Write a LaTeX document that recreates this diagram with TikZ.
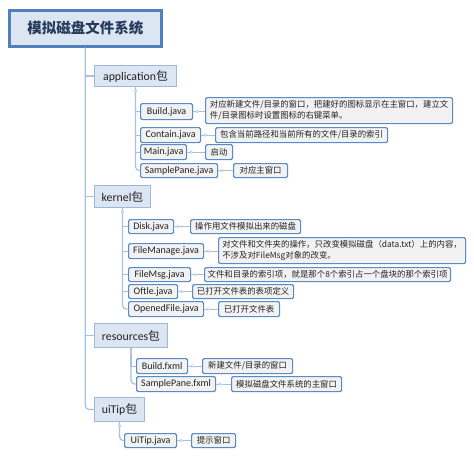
\documentclass[tikz,border=0pt]{standalone}
\usepackage{fontspec}
\setmainfont{Carlito}
\newfontfamily\cjk{Noto Sans CJK SC}
\definecolor{rootfill}{HTML}{DCE6F2}
\definecolor{rootdraw}{HTML}{4F81BD}
\definecolor{rootText}{HTML}{243A5A}
\definecolor{pkgfill}{HTML}{DCE6F2}
\definecolor{pkgdraw}{HTML}{9CB9DC}
\definecolor{leafdraw}{HTML}{5A8BC6}
\definecolor{leaffill}{HTML}{F2F2F2}
\definecolor{connc}{HTML}{A9C1DF}
\definecolor{txt}{HTML}{222222}
\newcommand\mybox[7]{\node[#6, anchor=north west, minimum width={(#4-#2)*1pt}, minimum height={(#5-#3)*1pt}] (#1) at (#2,#3) {#7};}
\begin{document}
\begin{tikzpicture}[x=1pt,y=-1pt,
  rootbox/.style={draw=rootdraw, fill=rootfill, line width=2.5pt, inner sep=0pt, text=rootText, font=\cjk\bfseries\fontsize{14.5}{16}\selectfont},
  pkgbox/.style={draw=pkgdraw, fill=pkgfill, line width=1pt, inner sep=0pt, text=txt, font=\fontsize{11.8}{13}\selectfont},
  leafbox/.style={draw=leafdraw, fill=leaffill, line width=1.2pt, rounded corners=1.5pt, inner sep=0pt, text=txt, font=\fontsize{10}{11}\selectfont},
  descbox/.style={draw=leafdraw, fill=leaffill, line width=1.2pt, rounded corners=1.5pt, inner sep=0pt, text=txt, align=left, font=\cjk\fontsize{8.4}{11}\selectfont},
  conn/.style={draw=connc, line width=1.2pt},
  lastconn/.style={draw=connc, line width=1.2pt, rounded corners=4pt},
  knob/.style={draw=connc, fill=white, line width=0.5pt}]
\useasboundingbox (0,0) rectangle (474,456);
\fill[white] (0,0) rectangle (474,456);

\mybox{root}{8}{9}{160}{45}{rootbox}{模拟磁盘文件系统}

\mybox{app}{94}{65}{176}{86}{pkgbox}{application{\cjk 包}}
\mybox{build}{140}{103}{192}{119}{leafbox}{Build.java}
\mybox{buildd}{205}{97}{452}{123}{descbox}{对应新建文件/目录的窗口，把建好的图标显示在主窗口，建立文\\件/目录图标时设置图标的右键菜单。}
\mybox{contain}{140}{127}{200}{142}{leafbox}{Contain.java}
\mybox{containd}{215}{127}{387}{142}{descbox}{包含当前路径和当前所有的文件/目录的索引}
\mybox{main}{140}{144}{186}{159}{leafbox}{Main.java}
\mybox{maind}{205}{144}{232}{159}{descbox}{启动}
\mybox{sp}{140}{163}{217}{177}{leafbox}{SamplePane.java}
\mybox{spd}{233}{163}{287}{177}{descbox}{对应主窗口}

\mybox{kernel}{94}{185}{150}{207}{pkgbox}{kernel{\cjk 包}}
\mybox{disk}{128}{219}{173}{233}{leafbox}{Disk.java}
\mybox{diskd}{190}{219}{300}{233}{descbox}{操作用文件模拟出来的磁盘}
\mybox{fm}{128}{243}{203}{258}{leafbox}{FileManage.java}
\mybox{fmd}{218}{237}{465}{263}{descbox}{对文件和文件夹的操作，只改变模拟磁盘（data.txt）上的内容，\\不涉及对FileMsg对象的改变。}
\mybox{fmsg}{128}{267}{190}{281}{leafbox}{FileMsg.java}
\mybox{fmsgd}{204}{267}{450}{281}{descbox}{文件和目录的索引项，就是那个8个索引占一个盘块的那个索引项}
\mybox{oftle}{128}{284}{177}{298}{leafbox}{Oftle.java}
\mybox{oftled}{192}{284}{293}{298}{descbox}{已打开文件表的表项定义}
\mybox{opened}{128}{301}{203}{316}{leafbox}{OpenedFile.java}
\mybox{openedd}{218}{301}{279}{316}{descbox}{已打开文件表}

\mybox{res}{94}{323}{167}{347}{pkgbox}{resources{\cjk 包}}
\mybox{bfx}{136}{358}{187}{373}{leafbox}{Build.fxml}
\mybox{bfxd}{202}{358}{292}{373}{descbox}{新建文件/目录的窗口}
\mybox{spfx}{136}{376}{215}{391}{leafbox}{SamplePane.fxml}
\mybox{spfxd}{231}{376}{341}{391}{descbox}{模拟磁盘文件系统的主窗口}

\mybox{ui}{94}{397}{144}{421}{pkgbox}{uiTip{\cjk 包}}
\mybox{uij}{124}{433}{176}{447}{leafbox}{UiTip.java}
\mybox{uijd}{191}{433}{235}{447}{descbox}{提示窗口}

% main trunk
\draw[conn] (root.south) |- (app.west);
\draw[conn] (root.south) |- (kernel.west);
\draw[conn] (root.south) |- (res.west);
\draw[lastconn] (root.south) |- (ui.west);
% application
\draw[conn] (app.south) |- (build.west);
\draw[conn] (app.south) |- (contain.west);
\draw[conn] (app.south) |- (main.west);
\draw[lastconn] (app.south) |- (sp.west);
% kernel
\draw[conn] (kernel.south) |- (disk.west);
\draw[conn] (kernel.south) |- (fm.west);
\draw[conn] (kernel.south) |- (fmsg.west);
\draw[conn] (kernel.south) |- (oftle.west);
\draw[lastconn] (kernel.south) |- (opened.west);
% resources
\draw[conn] (res.south) |- (bfx.west);
\draw[lastconn] (res.south) |- (spfx.west);
% uiTip
\draw[lastconn] (ui.south) |- (uij.west);
% collapse knobs under packages
\foreach \p in {app,kernel,res,ui}{
  \draw[knob] ([yshift=-4pt]\p.south) circle (1.3pt);
}
% leaf to description
\foreach \a/\b in {build/buildd,contain/containd,main/maind,sp/spd,disk/diskd,fm/fmd,fmsg/fmsgd,oftle/oftled,opened/openedd,bfx/bfxd,spfx/spfxd,uij/uijd}{
  \draw[conn] (\a.east) -- (\a.east -| \b.west);
  \draw[knob] ([xshift=4pt]\a.east) circle (1.3pt);
}
\end{tikzpicture}
\end{document}
